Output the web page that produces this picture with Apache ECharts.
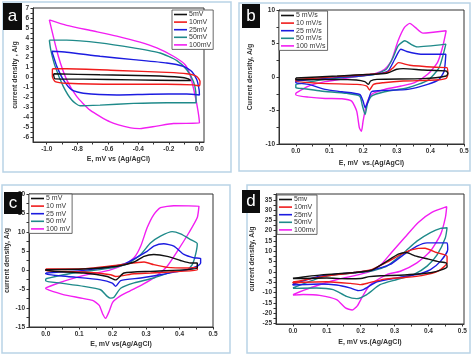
<!DOCTYPE html>
<html><head><meta charset="utf-8">
<script src="https://cdn.jsdelivr.net/npm/echarts@6/dist/echarts.min.js"></script>
<style>html,body{margin:0;padding:0;background:#fff}#c{width:474px;height:355px}</style>
</head><body><div id="c"></div>
<script>
// ---------- Panel a : E (V vs Ag/AgCl), J (A/g) ----------
const a5   = [[-0.956,0.37],[-0.651,0.27],[-0.323,0.17],[-0.127,0.03],[-0.072,-0.14],[-0.057,-0.31],[-0.127,-0.31],[-0.432,-0.24],[-0.76,-0.17],[-0.945,-0.14],[-0.956,0.37]];
const a10  = [[-0.963,0.88],[-0.869,0.88],[-0.541,0.71],[-0.214,0.51],[-0.083,0.37],[-0.017,0.1],[0.004,-0.41],[0.0,-0.85],[-0.039,-0.75],[-0.214,-0.68],[-0.541,-0.68],[-0.869,-0.58],[-0.945,-0.41],[-0.963,0.1],[-0.963,0.88]];
const a25  = [[-0.967,2.64],[-0.869,2.54],[-0.651,2.14],[-0.432,1.8],[-0.214,1.46],[-0.105,1.12],[-0.05,0.61],[-0.017,-0.24],[-0.002,-1.25],[0.0,-1.76],[-0.083,-1.66],[-0.323,-1.69],[-0.541,-1.76],[-0.76,-1.59],[-0.836,-1.25],[-0.891,-0.24],[-0.934,1.12],[-0.956,2.14],[-0.967,2.64]];
const a50  = [[-0.983,3.76],[-0.869,3.76],[-0.651,3.49],[-0.432,2.98],[-0.258,2.47],[-0.148,1.7],[-0.083,0.78],[-0.039,-0.41],[-0.024,-1.42],[-0.022,-2.54],[-0.214,-2.54],[-0.432,-2.61],[-0.651,-2.78],[-0.782,-2.85],[-0.836,-2.27],[-0.891,-0.92],[-0.945,1.12],[-0.974,2.81],[-0.983,3.76]];
const a100 = [[-0.983,5.8],[-0.869,5.25],[-0.694,4.68],[-0.541,4.17],[-0.389,3.56],[-0.279,2.98],[-0.17,2.14],[-0.094,1.29],[-0.06,0.2],[-0.03,-1.7],[-0.01,-3.3],[0.0,-4.58],[-0.17,-4.64],[-0.28,-4.9],[-0.39,-5.15],[-0.45,-5.08],[-0.585,-4.47],[-0.716,-3.29],[-0.803,-1.93],[-0.869,-0.24],[-0.924,2.14],[-0.983,5.8]];

// ---------- Panel b ----------
const b5   = [[0,-0.15],[0.123,0.15],[0.27,0.55],[0.3,1.15],[0.319,1.25],[0.378,1.05],[0.447,0.9],[0.452,0.55],[0.447,0.15],[0.378,-0.25],[0.241,-0.35],[0.222,-0.6],[0.216,-1.1],[0.205,-0.7],[0.18,-0.45],[0.123,-0.35],[0,-0.4],[0,-0.15]];
const b10  = [[0,-0.35],[0.123,0.05],[0.221,0.4],[0.27,0.65],[0.29,1.4],[0.305,2.15],[0.339,1.75],[0.417,1.45],[0.449,1.4],[0.452,0.4],[0.447,-0.2],[0.417,-0.45],[0.319,-0.6],[0.26,-0.85],[0.231,-1.1],[0.219,-1.95],[0.211,-1.35],[0.182,-1.1],[0.074,-0.95],[0,-0.6],[0,-0.35]];
const b25  = [[0,-0.6],[0.087,-0.2],[0.186,0.15],[0.235,0.4],[0.274,0.9],[0.294,2.65],[0.312,4.15],[0.33,3.8],[0.372,3.4],[0.446,3.4],[0.441,0.9],[0.426,-0.35],[0.392,-1.1],[0.333,-1.85],[0.264,-2.0],[0.225,-2.2],[0.215,-3.6],[0.206,-4.6],[0.2,-3.6],[0.19,-2.6],[0.137,-2.2],[0.087,-1.85],[0.038,-1.1],[0,-0.85],[0,-0.6]];
const b50  = [[0,-1.1],[0.087,-0.35],[0.186,0.1],[0.235,0.4],[0.269,1.15],[0.289,2.9],[0.304,4.65],[0.324,5.4],[0.345,4.8],[0.36,4.5],[0.446,4.9],[0.426,1.4],[0.392,-0.5],[0.333,-1.6],[0.264,-2.2],[0.225,-2.85],[0.213,-4.0],[0.206,-5.6],[0.198,-4.3],[0.19,-2.85],[0.152,-2.45],[0.074,-2.1],[0.025,-1.75],[0,-1.6],[0,-1.1]];
const b100 = [[0,-2.4],[0.038,-1.35],[0.087,-0.7],[0.137,-0.3],[0.186,0.1],[0.235,0.5],[0.264,1.15],[0.284,2.4],[0.304,5.4],[0.323,7.4],[0.339,8.0],[0.355,7.4],[0.378,6.55],[0.447,6.9],[0.436,4.4],[0.421,2.15],[0.392,0.4],[0.353,-0.85],[0.313,-1.35],[0.264,-1.85],[0.225,-2.6],[0.21,-4.1],[0.2,-6.6],[0.195,-8.1],[0.189,-7.6],[0.181,-5.1],[0.166,-3.6],[0.137,-3.25],[0.087,-3.2],[0.038,-3.0],[0,-2.7],[0,-2.4]];

// ---------- Panel c ----------
const c5   = [[0,0.1],[0.114,0.26],[0.214,1.0],[0.264,2.1],[0.294,3.6],[0.323,4.06],[0.363,3.6],[0.403,2.5],[0.433,1.85],[0.453,1.85],[0.453,0.5],[0.423,0.1],[0.313,-0.35],[0.234,-0.8],[0.209,-2.6],[0.184,-1.7],[0.114,-0.8],[0,-0.1],[0,0.1]];
const c10  = [[0,0.26],[0.114,0.35],[0.224,1.4],[0.294,2.1],[0.323,1.4],[0.363,0.7],[0.423,0.53],[0.453,0.7],[0.453,0],[0.403,-0.35],[0.313,-0.8],[0.264,-1.0],[0.209,-1.7],[0.194,-1.24],[0.114,-0.53],[0,-0.18],[0,0.26]];
const c25  = [[0,-0.8],[0.114,-0.1],[0.234,1.6],[0.303,4.9],[0.323,6.3],[0.353,6.9],[0.383,6.3],[0.413,4.1],[0.443,3.2],[0.463,3.0],[0.463,1.85],[0.453,1.0],[0.423,0.1],[0.343,-1.24],[0.284,-2.1],[0.224,-2.8],[0.209,-4.3],[0.199,-3.45],[0.164,-2.6],[0.065,-1.7],[0,-1.06],[0,-0.8]];
const c50  = [[0,-2.3],[0.05,-1.3],[0.114,-0.4],[0.194,0.5],[0.244,1.6],[0.284,4.1],[0.313,7.1],[0.343,8.9],[0.378,10.1],[0.403,9.5],[0.433,8.0],[0.453,6.9],[0.448,4.1],[0.438,1.4],[0.423,0.1],[0.383,-0.35],[0.323,-2.1],[0.264,-3.4],[0.224,-4.8],[0.204,-7.2],[0.194,-7.4],[0.184,-6.95],[0.164,-5.2],[0.114,-4.3],[0.045,-3.45],[0,-2.9],[0,-2.3]];
const c100 = [[0,-4.7],[0.04,-3.35],[0.09,-2.0],[0.139,-0.97],[0.189,-0.1],[0.234,1.4],[0.264,3.2],[0.284,6.3],[0.303,11.1],[0.323,14.6],[0.343,16.4],[0.383,16.9],[0.458,16.8],[0.453,13.8],[0.428,9.8],[0.393,4.9],[0.363,1.0],[0.33,-1.6],[0.29,-3.8],[0.25,-5.6],[0.22,-7.0],[0.2,-8.5],[0.19,-10.8],[0.179,-12.7],[0.17,-11.5],[0.16,-9.3],[0.14,-8.0],[0.1,-7.3],[0.05,-6.4],[0.01,-5.3],[0,-4.9],[0,-4.7]];

// ---------- Panel d ----------
const d5   = [[0,-3.1],[0.084,-1.46],[0.182,-0.3],[0.232,0.8],[0.271,4.5],[0.311,8.6],[0.335,9.4],[0.36,7.8],[0.4,6.2],[0.429,5.0],[0.453,4.3],[0.455,2.4],[0.41,-0.3],[0.33,-1.5],[0.26,-1.9],[0.225,-2.3],[0.2,-3.2],[0.16,-3.3],[0.1,-3.0],[0,-3.3],[0,-3.1]];
const d10  = [[0,-4.9],[0.084,-2.4],[0.182,-0.3],[0.232,1.1],[0.281,5.0],[0.33,9.5],[0.37,11.4],[0.39,11.5],[0.42,9.6],[0.455,7.6],[0.455,4.4],[0.43,0.5],[0.38,-1.8],[0.33,-2.7],[0.27,-3.5],[0.22,-5.5],[0.2,-6.2],[0.17,-5.6],[0.1,-4.8],[0.03,-5.0],[0,-5.3],[0,-4.9]];
const d25  = [[0,-5.9],[0.079,-2.1],[0.182,-0.3],[0.228,0.65],[0.287,3.6],[0.327,8.4],[0.366,12.5],[0.396,14.1],[0.455,14.1],[0.457,10.9],[0.436,5.2],[0.406,1.1],[0.366,-1.3],[0.307,-2.9],[0.248,-4.8],[0.208,-8.6],[0.193,-9.1],[0.168,-7.8],[0.129,-6.4],[0.079,-5.9],[0,-6.4],[0,-5.9]];
const d50  = [[0,-7.8],[0.079,-2.9],[0.129,-1.3],[0.228,0.3],[0.277,2.8],[0.327,9.3],[0.366,14.9],[0.406,19.0],[0.436,21.1],[0.455,21.4],[0.45,16.6],[0.426,8.4],[0.396,2.8],[0.356,-1.3],[0.307,-3.7],[0.257,-6.2],[0.218,-11.0],[0.188,-13.0],[0.158,-11.9],[0.119,-8.6],[0.069,-7.8],[0,-8.0],[0,-7.8]];
const d100 = [[0,-11.0],[0.054,-7.6],[0.133,-3.6],[0.192,-1.46],[0.232,0.5],[0.261,3.7],[0.291,9.4],[0.33,16.7],[0.37,24.0],[0.41,28.9],[0.454,31.7],[0.45,26.3],[0.436,18.2],[0.406,10.1],[0.366,4.4],[0.317,0.3],[0.277,-1.3],[0.228,-6.2],[0.205,-12.0],[0.19,-16.5],[0.175,-18.5],[0.155,-17.5],[0.129,-13.5],[0.079,-11.4],[0.03,-11.0],[0,-11.3],[0,-11.0]];

// ---------- Legends / tick labels ----------
const legA = ['5mV','10mV','25mV','50mV','100mV'];
const legB = ['5 mV/s','10 mV/s','25 mV/s','50 mV/s','100 mV/s'];
const legC = ['5 mV','10 mV','25 mV','50 mV','100 mV'];
const legD = ['5mv','10mV','25mV','50mV','100mv'];
const xTicksA = [-1.0,-0.8,-0.6,-0.4,-0.2,0.0];
const yTicksA = [-6,-5,-4,-3,-2,-1,0,1,2,3,4,5,6,7];
const xTicksBCD = [0.0,0.1,0.2,0.3,0.4,0.5];
const yTicksB = [-10,-5,0,5,10];
const yTicksC = [-15,-10,-5,0,5,10,15,20];
const yTicksD = [-25,-20,-15,-10,-5,0,5,10,15,20,25,30,35];

const colors = ['#111111','#f01c1c','#1c1ce0','#1f8a8a','#f21ef2'];
const FONT = 'Liberation Sans, Arial, sans-serif';

function minors(arr, step){ const out=[]; arr.forEach(v=>{out.push(v); out.push(+(v+step/2).toFixed(4));}); return out; }

function xAx(gi,min,max,labels,step,name,gap){
  return {gridIndex:gi,type:'value',min,max,
    axisLine:{onZero:false,lineStyle:{color:'#333',width:1}},
    splitLine:{show:false},
    axisTick:{customValues:minors(labels,step).filter(v=>v>=min&&v<=max),length:2.5,lineStyle:{color:'#333'}},
    axisLabel:{customValues:labels,formatter:v=>Number(v).toFixed(1),fontSize:6.5,fontWeight:'bold',color:'#333',margin:4,fontFamily:FONT},
    name,nameLocation:'middle',nameGap:gap,nameTextStyle:{fontSize:7,fontWeight:'bold',color:'#333',fontFamily:FONT}};
}
function yAx(gi,min,max,labels,step,name,gap){
  return {gridIndex:gi,type:'value',min,max,
    axisLine:{onZero:false,lineStyle:{color:'#333',width:1}},
    splitLine:{show:false},
    axisTick:{customValues:minors(labels,step).filter(v=>v>=min&&v<=max),length:2.5,lineStyle:{color:'#333'}},
    axisLabel:{customValues:labels,formatter:v=>String(v),fontSize:6.5,fontWeight:'bold',color:'#333',margin:4,fontFamily:FONT},
    name,nameLocation:'middle',nameGap:gap,nameTextStyle:{fontSize:7,fontWeight:'bold',color:'#333',fontFamily:FONT}};
}

const grids = [
  {left:33,top:8,width:171,height:134},
  {left:279,top:10,width:185,height:134},
  {left:29,top:194,width:184,height:133},
  {left:276,top:194,width:188,height:130}
].map(g=>Object.assign(g,{show:true,borderColor:'#333',borderWidth:1,backgroundColor:'transparent'}));

const xAxes = [
  xAx(0,-1.09,0.03,xTicksA,0.2,'E, mV vs (Ag/AgCl)',14),
  xAx(1,-0.05,0.5,xTicksBCD,0.1,'E, mV  vs.(Ag/AgCl)',16),
  xAx(2,-0.05,0.5,xTicksBCD,0.1,'E, mV vs(Ag/AgCl)',13.5),
  xAx(3,-0.05,0.505,xTicksBCD,0.1,'E, mV vs.(Ag/AgCl)',14.5)
];
const yAxes = [
  yAx(0,-6.5,7,yTicksA,1,'current density , A/g',14),
  yAx(1,-10,10,yTicksB,5,'Current density, A/g',25),
  yAx(2,-15,20,yTicksC,5,'current density, A/g',18),
  yAx(3,-25.3,37.8,yTicksD,5,'current density, A/g',20)
];

const panels = [
  {data:[a5,a10,a25,a50,a100],names:legA},
  {data:[b5,b10,b25,b50,b100],names:legB},
  {data:[c5,c10,c25,c50,c100],names:legC},
  {data:[d5,d10,d25,d50,d100],names:legD}
];
const series = [];
panels.forEach((p,gi)=>{
  p.data.forEach((arr,k)=>{
    series.push({type:'line',name:p.names[k],xAxisIndex:gi,yAxisIndex:gi,data:arr,
      showSymbol:false,symbol:'none',smooth:0.2,color:colors[k],
      lineStyle:{width:1.4,color:colors[k]},animation:false,z:10-k});
  });
});

function leg(left,top,names){
  return {left,top,orient:'vertical',data:names,icon:'rect',itemWidth:13,itemHeight:1.6,itemGap:0.6,
    padding:[1,2,1,2],borderColor:'#444',borderWidth:0.8,backgroundColor:'#fff',selectedMode:false,
    textStyle:{fontSize:7,lineHeight:7,color:'#333',fontFamily:FONT,padding:[0,0,0,-3]}};
}
const legends = [leg(172,10,legA),leg(279,11,legB),leg(29,194,legC),leg(277,195,legD)];

const FR = '#b9d3e6';
function frame(x,y,w,h){return {type:'rect',shape:{x,y,width:w,height:h},style:{fill:'none',stroke:FR,lineWidth:1.5},silent:true};}
function tag(x,y,w,h,t){return [
  {type:'rect',shape:{x,y,width:w,height:h},style:{fill:'#0d0d0d'},z:100},
  {type:'text',x:x+w/2,y:y+h/2,style:{text:t,fill:'#fff',font:'17px '+FONT,align:'center',verticalAlign:'middle'},z:101}];}
const graphic = [
  frame(3,2,228,170),frame(239,3,231,168),frame(2,185,228,168),frame(247,185,223,168),
  ...tag(3,3,19,27,'a'),...tag(242,4,18,24,'b'),...tag(4,192,18,22,'c'),...tag(242,190,18,23,'d')
];

const chart = echarts.init(document.getElementById('c'),null,{renderer:'canvas'});
chart.setOption({backgroundColor:'#fff',animation:false,grid:grids,xAxis:xAxes,yAxis:yAxes,series,legend:legends,graphic});
</script></body></html>
